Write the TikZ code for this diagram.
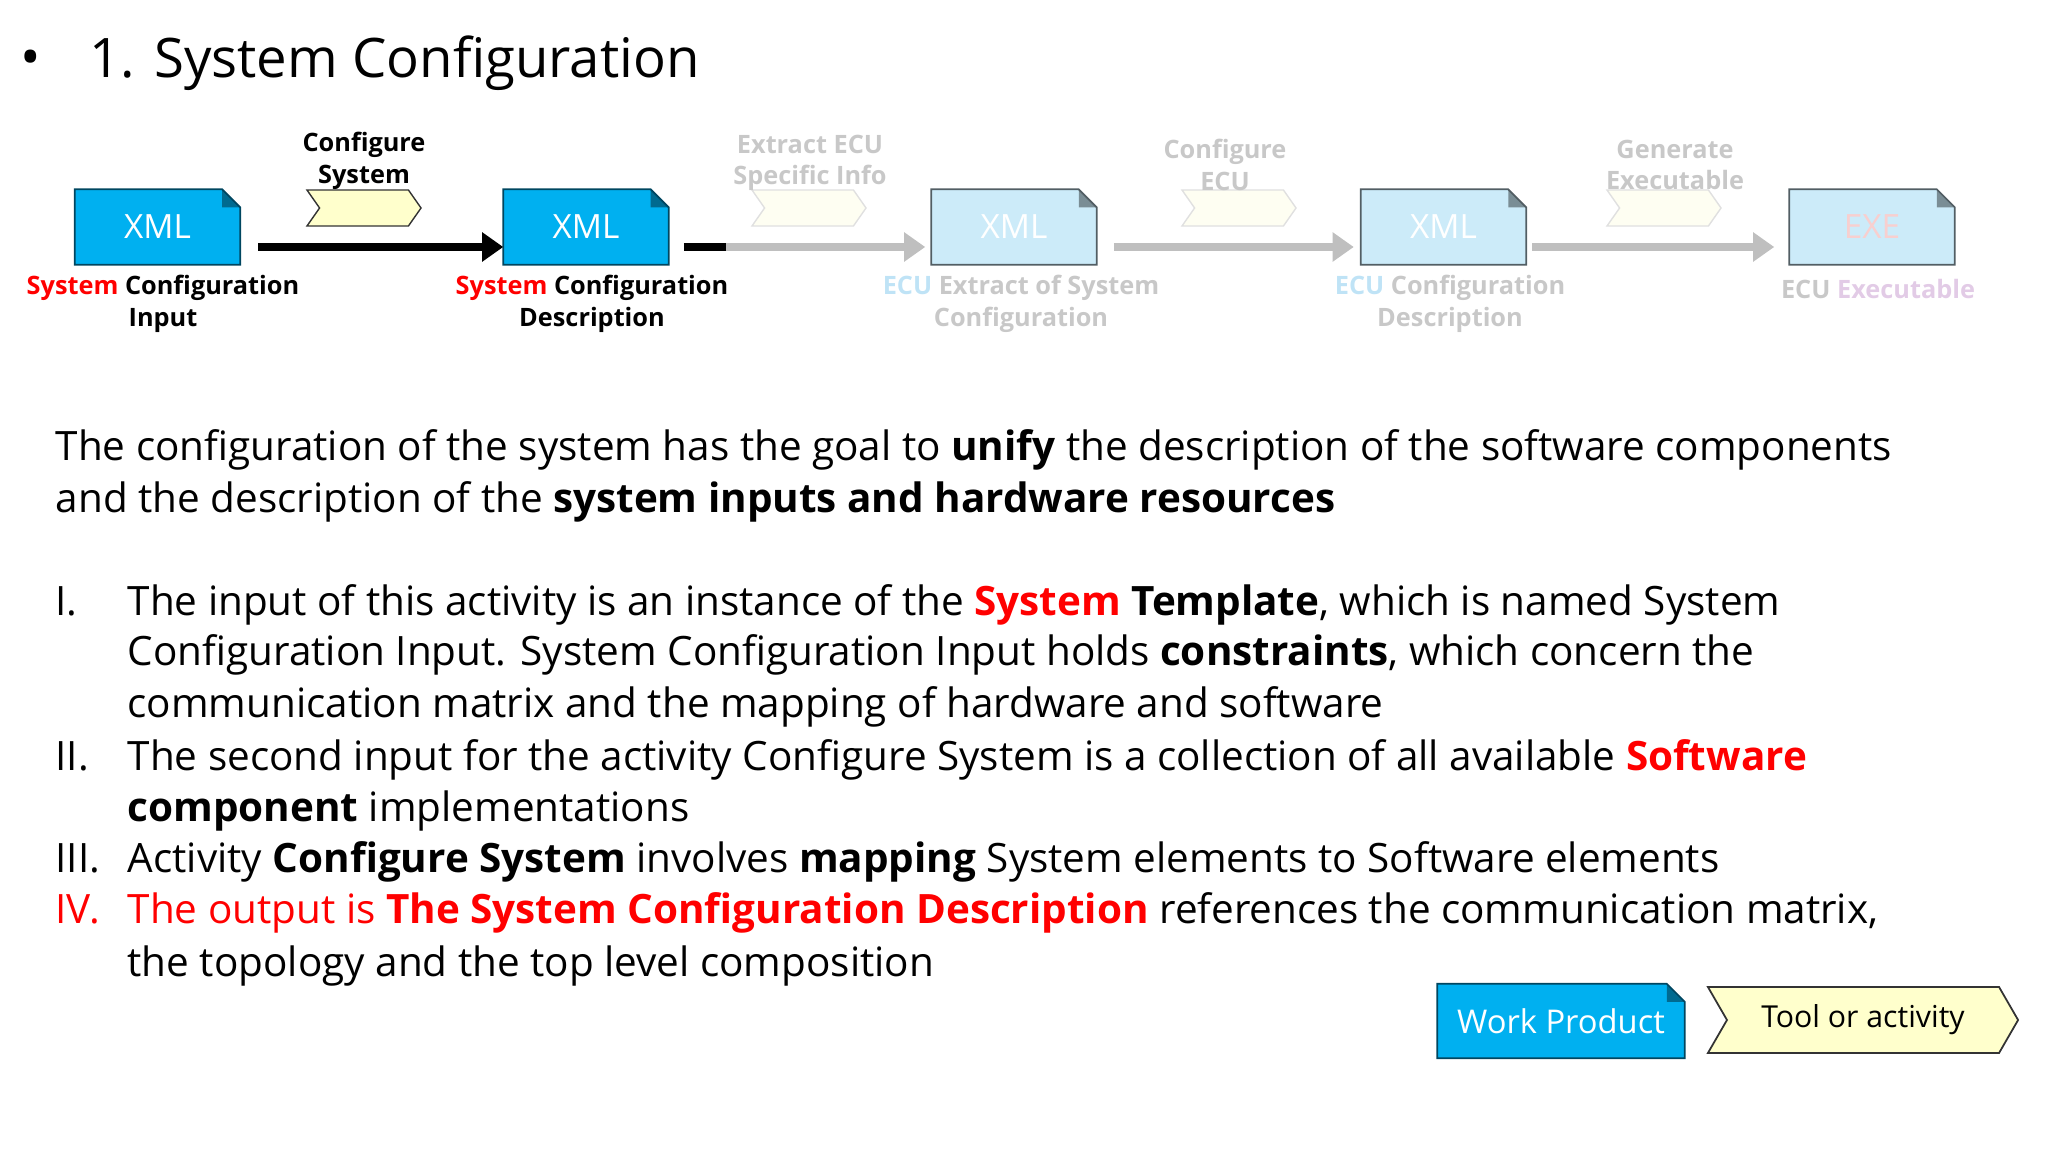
\documentclass[tikz,border=0pt]{standalone}
\usepackage{fontspec}
\setmainfont{Open Sans}
\usetikzlibrary{shapes.symbols,arrows.meta}
\definecolor{wpblue}{HTML}{00B0F0}
\definecolor{wpfade}{HTML}{CCEBF9}
\definecolor{chev}{HTML}{FFFFCC}
\definecolor{chevfade}{HTML}{FEFEF2}
\definecolor{fadetxt}{HTML}{C8C8C8}
\definecolor{fadeblue}{HTML}{BFE3F6}
\definecolor{fadered}{HTML}{F8CFCF}
\definecolor{fadepurp}{HTML}{E2CBE6}
\definecolor{myred}{HTML}{FF0000}
\tikzset{
  docbox/.style={rectangle,fill=#1,minimum width=1.64cm,minimum height=0.74cm,inner sep=0pt,text=white,font=\fontsize{9.5}{12}\selectfont},
  chevbox/.style={signal,signal to=east,signal from=west,signal pointer angle=110,fill=#1,minimum width=1.14cm,minimum height=0.36cm,inner sep=0pt},
  lbl/.style={align=center,font=\bfseries\fontsize{7.2}{9}\selectfont,inner sep=0pt},
  flow/.style={line width=2.2pt,-{Triangle[length=6pt,width=8pt]}},
  body/.style={anchor=base west,inner sep=0pt,font=\fontsize{11.5}{14}\selectfont},
}
\newcommand{\docfold}[2]{% node name, outline color
  \fill[#2!60!black] ([xshift=-0.18cm]#1.north east) -- ([yshift=-0.18cm]#1.north east) -- ([xshift=-0.18cm,yshift=-0.18cm]#1.north east) -- cycle;
  \fill[white] ([xshift=-0.18cm]#1.north east) -- (#1.north east) -- ([yshift=-0.18cm]#1.north east) -- cycle;
  \draw[#2!40!black,line width=0.5pt] (#1.south west) -- (#1.north west) -- ([xshift=-0.18cm]#1.north east) -- ([yshift=-0.18cm]#1.north east) -- (#1.south east) -- cycle;}
\begin{document}
\begin{tikzpicture}[x=0.01cm,y=-0.01cm]
\useasboundingbox (0,0) rectangle (2048,1152);
% title
\node[anchor=west,inner sep=0pt,font=\fontsize{15.5}{18}\selectfont] (bul) at (20,63) {•};
\node[anchor=west,inner sep=0pt,font=\fontsize{15.5}{18}\selectfont] (title) at (89,63) {1. System Configuration};
% work products
\node[docbox=wpblue] (d1) at (157.5,227) {XML};
\node[docbox=wpblue] (d2) at (586,227) {XML};
\node[docbox=wpfade] (d3) at (1014,227) {XML};
\node[docbox=wpfade] (d4) at (1443.5,227) {XML};
\node[docbox=wpfade,text=fadered] (d5) at (1872,227) {EXE};
\docfold{d1}{wpblue}
\docfold{d2}{wpblue}
\docfold{d3}{wpfade}
\docfold{d4}{wpfade}
\docfold{d5}{wpfade}
% activities
\node[chevbox=chev,draw=black!80,line width=0.4pt] (c1) at (364,208) {};
\node[chevbox=chevfade,draw=black!12,line width=0.4pt] (c2) at (809,208) {};
\node[chevbox=chevfade,draw=black!12,line width=0.4pt] (c3) at (1239,208) {};
\node[chevbox=chevfade,draw=black!12,line width=0.4pt] (c4) at (1664,208) {};
\node[lbl] (a1) at (364,161) {Configure\\System};
\node[lbl,text=fadetxt] (a2) at (810,163) {Extract ECU\\Specific Info};
\node[lbl,text=fadetxt] (a3) at (1225,165) {Configure\\ECU};
\node[lbl,text=fadetxt] (a4) at (1675,165) {Generate\\Executable};
% arrows
\coordinate (m2) at (726,247);
\draw[flow] ([xshift=0.18cm]d1.east|-0,247) -- (d2.west|-0,247);
\draw[line width=2.2pt,black!25,-{Triangle[length=6pt,width=8pt]}] (m2) -- ([xshift=-0.06cm]d3.west|-0,247);
\draw[line width=2.2pt] ([xshift=0.15cm]d2.east|-0,247) -- (m2);
\draw[line width=2.2pt,black!25,-{Triangle[length=6pt,width=8pt]}] ([xshift=0.17cm]d3.east|-0,247) -- ([xshift=-0.07cm]d4.west|-0,247);
\draw[line width=2.2pt,black!25,-{Triangle[length=6pt,width=8pt]}] ([xshift=0.06cm]d4.east|-0,247) -- ([xshift=-0.15cm]d5.west|-0,247);
% labels below
\node[lbl] (l1) at (163,304) {\textcolor{myred}{System} Configuration\\Input};
\node[lbl] (l2) at (592,304) {\textcolor{myred}{System} Configuration\\Description};
\node[lbl,text=fadetxt] (l3) at (1021,304) {\textcolor{fadeblue}{ECU} Extract of System\\Configuration};
\node[lbl,text=fadetxt] (l4) at (1450,304) {\textcolor{fadeblue}{ECU} Configuration\\Description};
\node[lbl,text=fadetxt] (l5) at (1878,289) {ECU \textcolor{fadepurp}{Executable}};
% paragraph
\node[body] (p1) at (55,461) {The configuration of the system has the goal to \textbf{unify} the description of the software components};
\node[body] (p2) at (55,512) {and the description of the \textbf{system inputs and hardware resources}};
% list
\node[body] (r1) at (55,615) {I.};
\node[body] (t1) at (127,615) {The input of this activity is an instance of the \textbf{\textcolor{myred}{System} Template}, which is named System};
\node[body] (t1b) at (127,666) {Configuration Input. System Configuration Input holds \textbf{constraints}, which concern the};
\node[body] (t1c) at (127,717) {communication matrix and the mapping of hardware and software};
\node[body] (r2) at (55,770) {II.};
\node[body] (t2) at (127,770) {The second input for the activity Configure System is a collection of all available \textbf{\textcolor{myred}{Software}}};
\node[body] (t2b) at (127,821) {\textbf{component} implementations};
\node[body] (r3) at (55,872) {III.};
\node[body] (t3) at (127,872) {Activity \textbf{Configure System} involves \textbf{mapping} System elements to Software elements};
\node[body,text=myred] (r4) at (55,923) {IV.};
\node[body] (t4) at (127,923) {\textcolor{myred}{The output is \textbf{The System Configuration Description}} references the communication matrix,};
\node[body] (t4b) at (127,976) {the topology and the top level composition};
% legend
\node[docbox=wpblue,minimum width=2.46cm,minimum height=0.73cm,font=\fontsize{9.3}{12}\selectfont] (lg1) at (1561,1021) {Work Product};
\docfold{lg1}{wpblue}
\node[chevbox=chev,draw=black!80,line width=0.5pt,minimum width=3.1cm,minimum height=0.66cm,signal pointer angle=120,font=\fontsize{8.6}{10}\selectfont] (lg2) at (1863,1020) {Tool or activity};
\end{tikzpicture}
\end{document}
